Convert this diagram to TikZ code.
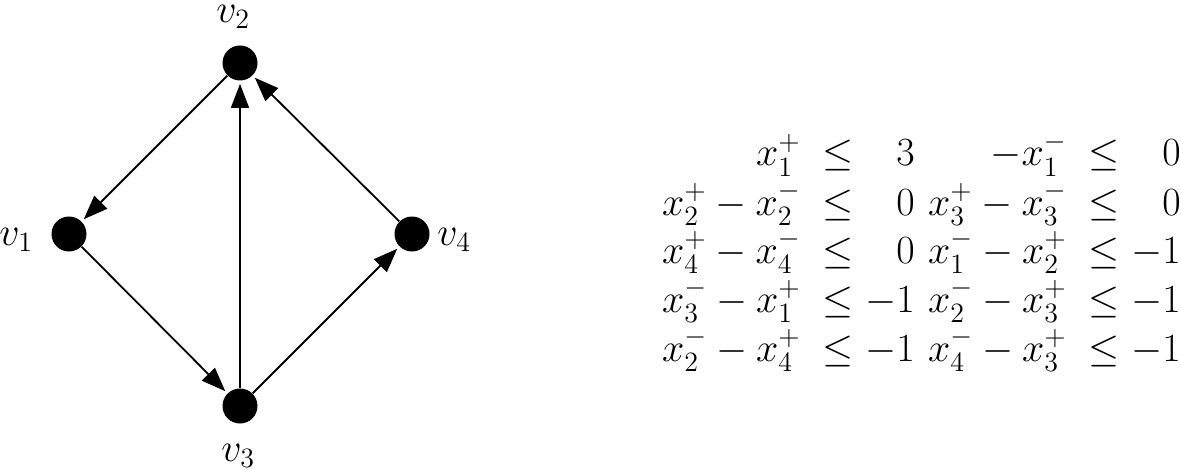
\documentclass[tikz,border=0pt]{standalone}
\usepackage{fix-cm}
\usepackage{amsmath}
\usetikzlibrary{arrows.meta}
\tikzset{
  vert/.style={circle,fill=black,inner sep=0pt,minimum size=17.5pt},
  vlabel/.style={inner sep=0pt,anchor=base west,font=\fontsize{20}{24}\selectfont},
  edge/.style={line width=0.9pt,-{Triangle[length=12pt,width=9pt]},shorten >=1.5pt},
  eqr/.style={inner sep=0pt,anchor=base east,font=\fontsize{20}{24}\selectfont},
  eqc/.style={inner sep=0pt,anchor=base,font=\fontsize{20}{24}\selectfont},
}
\begin{document}
\begin{tikzpicture}[x=0.5pt,y=-0.5pt]
\useasboundingbox (0,0) rectangle (1181,470);
% graph
\node[vert] (v2) at (240,63) {};
\node[vert] (v1) at (69,234) {};
\node[vert] (v3) at (240,406) {};
\node[vert] (v4) at (412,234) {};
\node[vlabel] (l2) at (216,23) {$v_2$};
\node[vlabel] (l1) at (-1,245) {$v_1$};
\node[vlabel] (l3) at (221,461) {$v_3$};
\node[vlabel] (l4) at (437,245) {$v_4$};
\draw[edge] (v2) -- (v1);
\draw[edge] (v1) -- (v3);
\draw[edge] (v3) -- (v2);
\draw[edge] (v3) -- (v4);
\draw[edge] (v4) -- (v2);
% inequalities
\foreach \a/\b/\c/\d/\y [count=\i] in {
  {x_1^+}/{3}/{-x_1^-}/{0}/166,
  {x_2^+ - x_2^-}/{0}/{x_3^+ - x_3^-}/{0}/215,
  {x_4^+ - x_4^-}/{0}/{x_1^- - x_2^+}/{-1}/263,
  {x_3^- - x_1^+}/{-1}/{x_2^- - x_3^+}/{-1}/312,
  {x_2^- - x_4^+}/{-1}/{x_4^- - x_3^+}/{-1}/361}{
  \node[eqr] (a\i) at (801,\y) {$\a$};
  \node[eqc] (p\i) at (838,\y) {$\le$};
  \node[eqr] (b\i) at (915,\y) {$\b$};
  \node[eqr] (c\i) at (1067,\y) {$\c$};
  \node[eqc] (q\i) at (1104,\y) {$\le$};
  \node[eqr] (d\i) at (1181,\y) {$\d$};
}
\end{tikzpicture}
\end{document}
